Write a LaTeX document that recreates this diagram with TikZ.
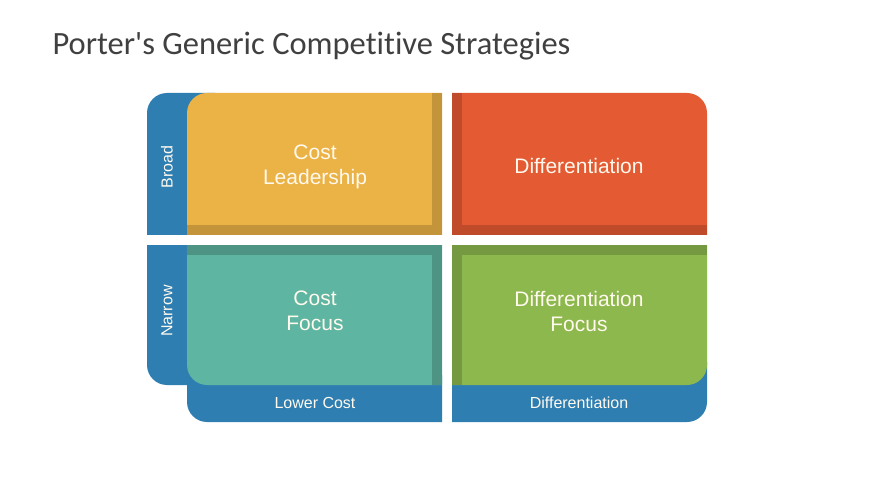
\documentclass[tikz,border=0pt]{standalone}
\usepackage{fontspec}
\setmainfont{Liberation Sans}
\newfontfamily\titlefont[Ligatures=NoCommon]{Carlito}
\definecolor{titlegray}{RGB}{64,64,64}
\definecolor{axisblue}{RGB}{46,126,178}
\definecolor{costyellow}{RGB}{235,178,70}
\definecolor{diffred}{RGB}{227,90,51}
\definecolor{focusteal}{RGB}{94,181,161}
\definecolor{focusgreen}{RGB}{140,184,77}
\definecolor{labeltext}{RGB}{255,249,238}

\begin{document}
\begin{tikzpicture}[x=1pt,y=-1pt,
	quad/.style={text=labeltext,align=center,font=\fontsize{21}{25}\selectfont},
	axis/.style={text=labeltext,font=\fontsize{16}{19}\selectfont}]
	\useasboundingbox (0,0) rectangle (870,489);
	\fill[white] (0,0) rectangle (870,489);
	
	\node [anchor=base west,text=titlegray,font=\titlefont\fontsize{32.5}{38}\selectfont] (title) at (49,55) {Porter's Generic Competitive Strategies};
	
	\fill[axisblue] (147,235) [rounded corners=20pt] -- (147,93) [sharp corners] -- (215,93) -- (215,235) -- cycle;
	\fill[costyellow] (187,235) [rounded corners=20pt] -- (187,93) [sharp corners] -- (442,93) -- (442,235) -- cycle;
	\fill[costyellow!83!black] (432,93) rectangle (442,235);
	\fill[costyellow!83!black] (187,225) rectangle (442,235);
	
	\fill[diffred] (452,235) -- (452,93) [rounded corners=20pt] -- (707,93) [sharp corners] -- (707,235) -- cycle;
	\fill[diffred!84!black] (452,93) rectangle (462,235);
	\fill[diffred!84!black] (452,225) rectangle (707,235);
	
	\fill[axisblue] (147,245) [rounded corners=20pt] -- (147,385) [sharp corners] -- (230,385) -- (230,245) -- cycle;
	\fill[axisblue] (187,375) [rounded corners=20pt] -- (187,422) [sharp corners] -- (442,422) -- (442,375) -- cycle;
	\fill[focusteal] (187,245) [rounded corners=20pt] -- (187,385) [sharp corners] -- (442,385) -- (442,245) -- cycle;
	\fill[focusteal!82!black] (187,245) rectangle (442,255);
	\fill[focusteal!82!black] (432,245) rectangle (442,385);
	
	\fill[axisblue] (452,362) -- (452,422) [rounded corners=20pt] -- (707,422) [sharp corners] -- (707,362) -- cycle;
	\fill[focusgreen] (452,245) -- (452,385) [rounded corners=20pt] -- (707,385) [sharp corners] -- (707,245) -- cycle;
	\fill[focusgreen!83!black] (452,245) rectangle (462,385);
	\fill[focusgreen!83!black] (452,245) rectangle (707,255);
	
	\node [quad] (costlead) at (315,167) {Cost\\Leadership};
	\node [quad] (diff) at (579,166) {Differentiation};
	\node [quad] (costfocus) at (315,311) {Cost\\Focus};
	\node [quad] (difffocus) at (579,311) {Differentiation\\Focus};
	
	\node [axis,rotate=90] (broad) at (167,167) {Broad};
	\node [axis,rotate=90] (narrow) at (167,311) {Narrow};
	\node [axis] (lowcost) at (315,403) {Lower Cost};
	\node [axis] (diffaxis) at (579,403) {Differentiation};
\end{tikzpicture}
\end{document}
